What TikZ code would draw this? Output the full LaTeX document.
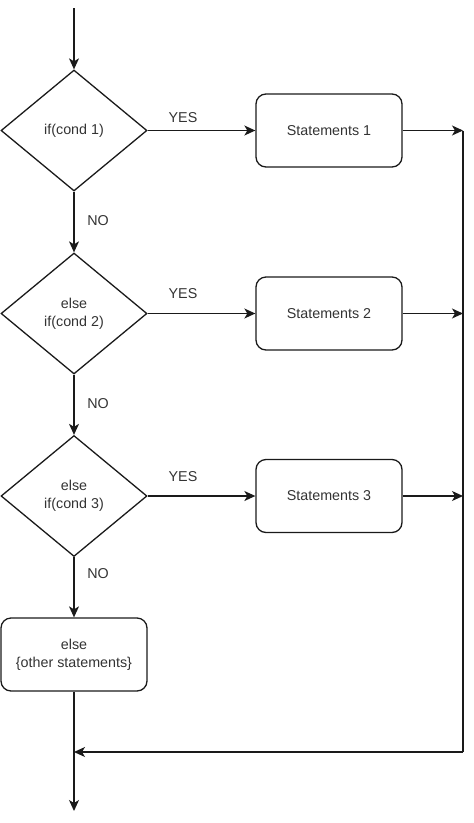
\documentclass[tikz,border=0pt]{standalone}
\usepackage{fontspec}
\setmainfont{Liberation Sans}
\usetikzlibrary{shapes.geometric,arrows.meta}
\definecolor{txt}{HTML}{333333}
\definecolor{ln}{HTML}{1A1A1A}
\begin{document}
\begin{tikzpicture}[x=1pt,y=-1pt,
  every node/.style={font=\fontsize{14.3}{18}\selectfont, text=txt},
  dec/.style={diamond, draw=ln, line width=1.3pt, inner sep=0pt, minimum width=146pt, minimum height=121pt, aspect=1.2, align=center},
  stbox/.style={rectangle, rounded corners=10pt, draw=ln, line width=1.3pt, minimum width=146pt, minimum height=73pt, align=center},
  conn/.style={draw=ln, line width=1.3pt, -{Stealth[length=11pt,width=10pt,inset=3pt]}},
  plain/.style={draw=ln, line width=1.3pt}
]
\useasboundingbox (0,0) rectangle (474,823);
\coordinate (top) at (74,8);
\node[dec] (d1) at (74,130.5) {if(cond 1)};
\node[dec] (d2) at (74,313.5) {else\\if(cond 2)};
\node[dec] (d3) at (74,496) {else\\if(cond 3)};
\node[stbox] (b1) at (329,130.5) {Statements 1};
\node[stbox] (b2) at (329,313.5) {Statements 2};
\node[stbox] (b3) at (329,496) {Statements 3};
\node[stbox] (b4) at (74,654.5) {else\\\{other statements\}};
\coordinate (r1) at (463,130.5);
\coordinate (r2) at (463,313.5);
\coordinate (r3) at (463,496);
\coordinate (rb) at (463,752);
\coordinate (j) at (74,752);
\coordinate (bot) at (74,811);

\draw[conn] (top) -- (d1.north);
\draw[conn] (d1.east) -- (b1.west);
\draw[conn] (d1.south) -- (d2.north);
\draw[conn] (d2.east) -- (b2.west);
\draw[conn] (d2.south) -- (d3.north);
\draw[conn] (d3.east) -- (b3.west);
\draw[conn] (d3.south) -- (b4.north);
\draw[conn] (b1.east) -- (r1);
\draw[conn] (b2.east) -- (r2);
\draw[conn] (b3.east) -- (r3);
\draw[plain] (r1) -- (rb);
\draw[conn] (rb) -- (j);
\draw[conn] (b4.south) -- (bot);

\node (y1) at (183,118) {YES};
\node (y2) at (183,294) {YES};
\node (y3) at (183,477) {YES};
\node (n1) at (98,221) {NO};
\node (n2) at (98,404) {NO};
\node (n3) at (98,574) {NO};
\end{tikzpicture}
\end{document}
